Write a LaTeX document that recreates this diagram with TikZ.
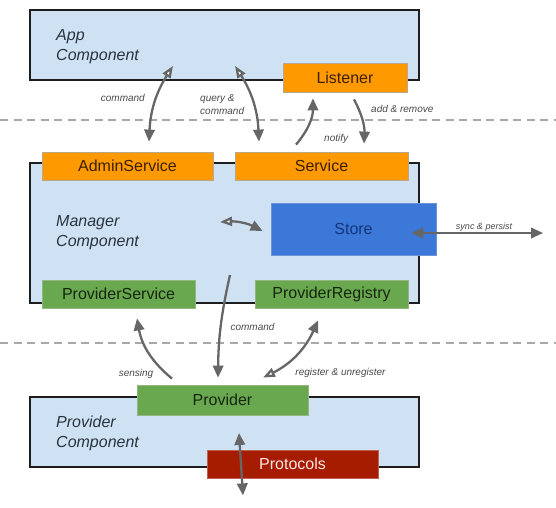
\documentclass[tikz,border=0pt]{standalone}
\usepackage{fontspec}
\setmainfont{Liberation Sans}
\usetikzlibrary{arrows.meta,calc}
\definecolor{compfill}{HTML}{CFE2F3}
\definecolor{compborder}{HTML}{1E1E1E}
\definecolor{orangefill}{HTML}{FF9900}
\definecolor{orangeborder}{HTML}{B8A890}
\definecolor{orangetext}{HTML}{3A2000}
\definecolor{greenfill}{HTML}{6AA84F}
\definecolor{greenborder}{HTML}{93B582}
\definecolor{greentext}{HTML}{15260E}
\definecolor{storefill}{HTML}{3C78D8}
\definecolor{storeborder}{HTML}{6C93D6}
\definecolor{storetext}{HTML}{15357A}
\definecolor{protofill}{HTML}{A61C00}
\definecolor{protoborder}{HTML}{C06050}
\definecolor{prototext}{HTML}{FCE4E4}
\definecolor{arrowcol}{HTML}{666666}
\definecolor{lblcol}{HTML}{4A4A4A}
\definecolor{complbl}{HTML}{2A3440}
\definecolor{sepcol}{HTML}{A8A8A8}
\begin{document}
\begin{tikzpicture}[x=1pt,y=1pt,
  ft/.tip={Triangle[length=12pt,width=10.5pt]},
  ot/.tip={Triangle[open,length=12pt,width=9pt,fill=white]},
  comp/.style={draw=compborder, fill=compfill, line width=1.8pt, minimum width=389pt, inner sep=0pt},
  box/.style={line width=0.8pt, inner sep=0pt, font=\fontsize{16}{19}\selectfont},
  orangebox/.style={box, fill=orangefill, draw=orangeborder, text=orangetext},
  greenbox/.style={box, fill=greenfill, draw=greenborder, text=greentext},
  storebox/.style={box, fill=storefill, draw=storeborder, text=storetext},
  protobox/.style={box, fill=protofill, draw=protoborder, text=prototext},
  complabel/.style={font=\fontsize{16}{20}\selectfont\itshape, text=complbl, inner sep=0pt, align=left, anchor=west},
  lbl/.style={font=\fontsize{10}{13}\selectfont\itshape, text=lblcol, inner sep=0pt, align=left},
  conn/.style={draw=arrowcol, line width=2.3pt},
  sep/.style={draw=sepcol, line width=1.4pt, dash pattern=on 8pt off 5.5pt}
]
\useasboundingbox (0,0) rectangle (556,-507);
\fill[white] (0,0) rectangle (556,-507);

% separators
\coordinate (s1a) at (0,-120);
\coordinate (s1b) at (556,-120);
\coordinate (s2a) at (0,-343);
\coordinate (s2b) at (556,-343);
\draw[sep] (s1a) -- (s1b);
\draw[sep] (s2a) -- (s2b);

% component boxes
\node[comp, minimum height=70pt] (app) at (224.5,-45) {};
\node[comp, minimum height=140pt] (manager) at (224.5,-233) {};
\node[comp, minimum height=70pt] (provcomp) at (224.5,-432) {};

\node[complabel] (applbl) at (56,-47) {App\\Component};
\node[complabel] (managerlbl) at (56,-233) {Manager\\Component};
\node[complabel] (provcomplbl) at (56,-433) {Provider\\Component};

% inner boxes
\node[orangebox, minimum width=124pt, minimum height=29pt] (listener) at (345,-77.5) {Listener};
\node[orangebox, minimum width=171pt, minimum height=28pt] (admin) at (127.5,-166) {AdminService};
\node[orangebox, minimum width=173pt, minimum height=28pt] (service) at (321.5,-166) {Service};
\node[storebox, minimum width=165pt, minimum height=52pt] (store) at (353.5,-229) {Store};
\node[greenbox, minimum width=153pt, minimum height=28pt] (provservice) at (118.5,-294) {ProviderService};
\node[greenbox, minimum width=153pt, minimum height=28pt] (provregistry) at (331.5,-294) {ProviderRegistry};
\node[greenbox, minimum width=171pt, minimum height=30pt] (provider) at (222.5,-400) {Provider};
\node[protobox, minimum width=171pt, minimum height=28pt] (protocols) at (292.5,-464) {Protocols};

% connectors
\draw[conn, ft-ot] ([shift={(21.5,10)}]admin.north) to[bend left=15] ([shift={(-51.5,15)}]app.south);
\draw[conn, ft-ot] ([shift={(-62.5,10)}]service.north) to[bend right=15] ([shift={(10.5,15)}]app.south);
\draw[conn, -ft] ([shift={(-25.5,7)}]service.north) to[bend right=20] ([shift={(-32,-6)}]listener.south);
\draw[conn, -ft] ([shift={(9,-7)}]listener.south) to[bend left=15] ([shift={(42.5,8)}]service.north);
\draw[conn, ot-ft] ([shift={(-4.5,11)}]manager.center) to[bend left=15] ([shift={(-8,-2)}]store.west);
\coordinate (syncend) at (543,-233);
\draw[conn, ft-ft] ([shift={(-25,-4)}]store.east) -- (syncend);
\draw[conn, -ft] ([shift={(5.5,-42)}]manager.center) to[bend right=6] ([shift={(-4.5,7)}]provider.north);
\draw[conn, -ft] ([shift={(-50.5,6)}]provider.north) to[bend left=20] ([shift={(18.5,-10)}]provservice.south);
\draw[conn, ot-ft] ([shift={(40.5,7)}]provider.north) to[bend right=20] ([shift={(-13.5,-12)}]provregistry.south);
\draw[conn, ft-ft] ([shift={(14.5,-1)}]provcomp.center) -- ([shift={(-49.5,-17)}]protocols.south);

% labels
\node[lbl, anchor=east] (lcmd1) at (145,-98) {command};
\node[lbl, anchor=west] (lqc) at (200,-104.5) {query \&\\command};
\node[lbl, anchor=west] (lnotify) at (324,-139) {notify};
\node[lbl, anchor=west] (ladd) at (371,-109) {add \& remove};
\node[lbl, font=\fontsize{9}{11}\selectfont\itshape] (lsync) at (484,-227) {sync \& persist};
\node[lbl] (lcmd2) at (252.5,-327) {command};
\node[lbl] (lsensing) at (136,-374) {sensing};
\node[lbl] (lreg) at (340.5,-373) {register \& unregister};
\end{tikzpicture}
\end{document}
